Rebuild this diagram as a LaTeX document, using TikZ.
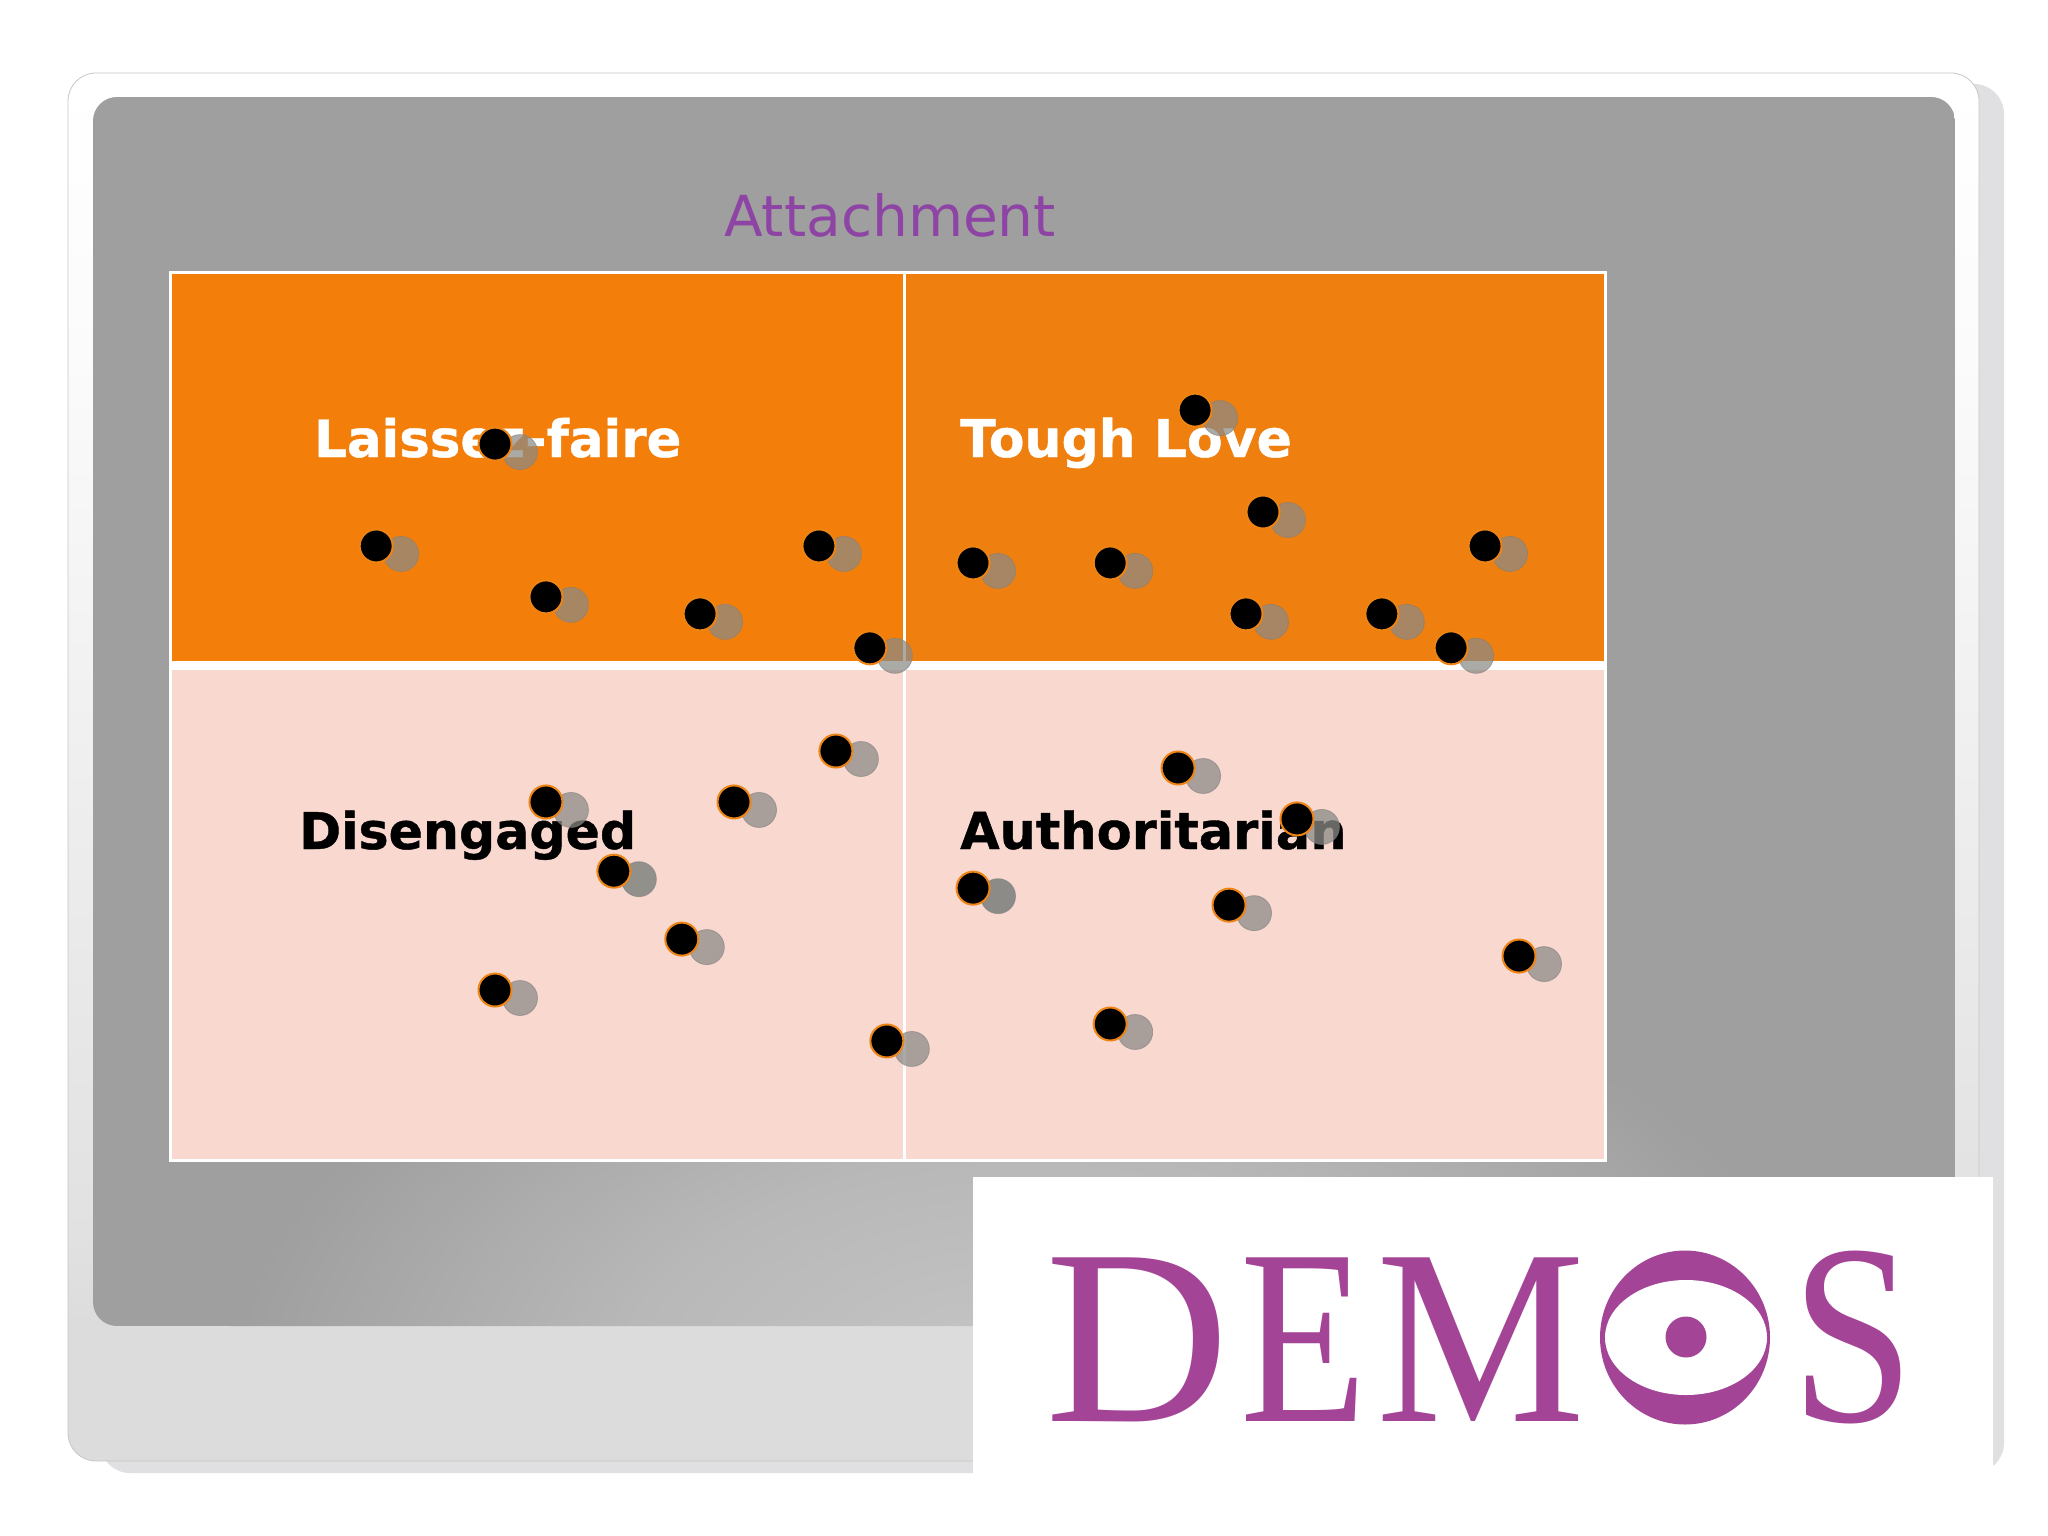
\documentclass[tikz,border=0pt]{standalone}
\usepackage{fontspec}
\setmainfont{DejaVu Sans}
\newfontfamily\lblfont[BoldFeatures={FakeBold=0.8}]{DejaVu Sans}
\newfontfamily\logofont{Liberation Serif}
\definecolor{titlepurple}{HTML}{8E44A4}
\definecolor{logopurple}{HTML}{A44497}
\definecolor{orangeleft}{HTML}{F37F0A}
\definecolor{orangeright}{HTML}{EF7F0E}
\definecolor{pinkcell}{HTML}{F8D8CF}
\definecolor{panelgrey}{HTML}{A09FA0}
\definecolor{panelmid}{HTML}{B8B8B8}
\definecolor{panellight}{HTML}{C7C7C7}
\definecolor{shadowstrip}{HTML}{E0DFE2}
\definecolor{dotring}{HTML}{EE8414}
\definecolor{shadowgrey}{HTML}{8A8A86}
\pgfdeclareverticalshading{cardshade}{100bp}{rgb(0bp)=(0.863,0.863,0.863);rgb(30bp)=(0.863,0.863,0.863);rgb(33bp)=(0.882,0.882,0.882);rgb(65bp)=(0.985,0.985,0.985);rgb(75bp)=(1,1,1);rgb(100bp)=(1,1,1)}
\pgfdeclareradialshading{panelglow}{\pgfpoint{0bp}{0bp}}{color(0bp)=(panellight);color(13bp)=(panelmid);color(25bp)=(panelgrey);color(50bp)=(panelgrey)}
\tikzset{
  x=1pt,y=-1pt,
  cellline/.style={draw=white,line width=3pt},
  celllabel/.style={font=\lblfont\fontsize{#1}{55}\selectfont\bfseries,anchor=base west,inner sep=0pt},
  logoletter/.style={font=\logofont\fontsize{250}{260}\selectfont,text=logopurple,anchor=base west,inner sep=0pt,transform shape},
  blackdisc/.style={fill=black,draw=dotring,line width=2pt}
}
\begin{document}
\begin{tikzpicture}
\useasboundingbox (0,0) rectangle (2048,1536);
\fill[white] (0,0) rectangle (2048,1536);
% backing sheet and card
\fill[shadowstrip,rounded corners=30pt] (100,84) rectangle (2004,1473);
\shade[shading=cardshade,draw=black!22,line width=.8pt,rounded corners=28pt] (68,73) rectangle (1979,1461);
% grey panel
\begin{scope}
  \clip[rounded corners=24pt] (93,97) rectangle (1955,1326);
  \fill[panelgrey] (93,97) rectangle (1955,1326);
  \shade[shading=panelglow] (230,930) rectangle (1830,1870);
\end{scope}
% title
\node[font=\fontsize{56.6}{60}\selectfont,text=titlepurple,anchor=base west,inner sep=0pt] (title) at (724,236) {Attachment};
% matrix
\fill[orangeleft] (170,272) rectangle (904,665);
\fill[orangeright] (904,272) rectangle (1605,665);
\fill[pinkcell] (170,665) rectangle (1605,1160);
\draw[white,line width=9pt] (170,665.5) -- (1605,665.5);
\draw[cellline] (904,272) -- (904,1160);
\draw[cellline] (170,272) rectangle (1605,1160);
% labels
\node[celllabel=51.4,text=white] (lf) at (314,457) {Laissez-faire};
\node[celllabel=52,text=white] (tl) at (960,457) {Tough Love};
\node[celllabel=50.6,text=black] (dis) at (299,849) {Disengaged};
\node[celllabel=51,text=black] (aut) at (960,849) {Authoritarian};
% dots: centre x / centre y / opacity of the shadow disc
\foreach \x/\y/\op in {379/340/.72,288/418/.72,418/457/.72,536/470/.72,627/418/.72,666/496/.72,915/314/.72,967/392/.72,745/431/.72,850/431/.72,954/470/.72,1058/470/.72,1137/418/.72,1111/496/.72,640/575/.72,418/614/.72,562/614/.72,470/667/.92,522/719/.72,379/758/.72,679/797/.72,902/588/.72,993/627/.75,745/680/.98,941/693/.72,1163/732/.72,850/784/.72}{
  \fill[fill=shadowgrey,fill opacity=\op,draw=gray,draw opacity=.6,line width=.8pt] ({\x*1.3061+25},{\y*1.3061+8}) circle (17.5);
  \filldraw[blackdisc] ({\x*1.3061},{\y*1.3061}) circle (16.5);
}
% logo
\fill[white] (973,1177) rectangle (1993,1536);
\begin{scope}[xscale=1.02]
  \node[logoletter] (d) at ({1045/1.02},1421) {D};
\end{scope}
\begin{scope}[xscale=.83]
  \node[logoletter] (e) at ({1240/.83},1421) {E};
\end{scope}
\begin{scope}[xscale=.94]
  \node[logoletter] (m) at ({1376/.94},1421) {M};
\end{scope}
\fill[logopurple] (1685,1337.5) ellipse (85 and 87);
\fill[white] (1686,1337.5) ellipse (81 and 57.5);
\fill[logopurple] (1686,1337) ellipse (20.5 and 20.5);
\begin{scope}[xscale=.885,yscale=1.03]
  \node[logoletter] (s) at ({1791/.885},{1421/1.03}) {S};
\end{scope}
\end{tikzpicture}
\end{document}
